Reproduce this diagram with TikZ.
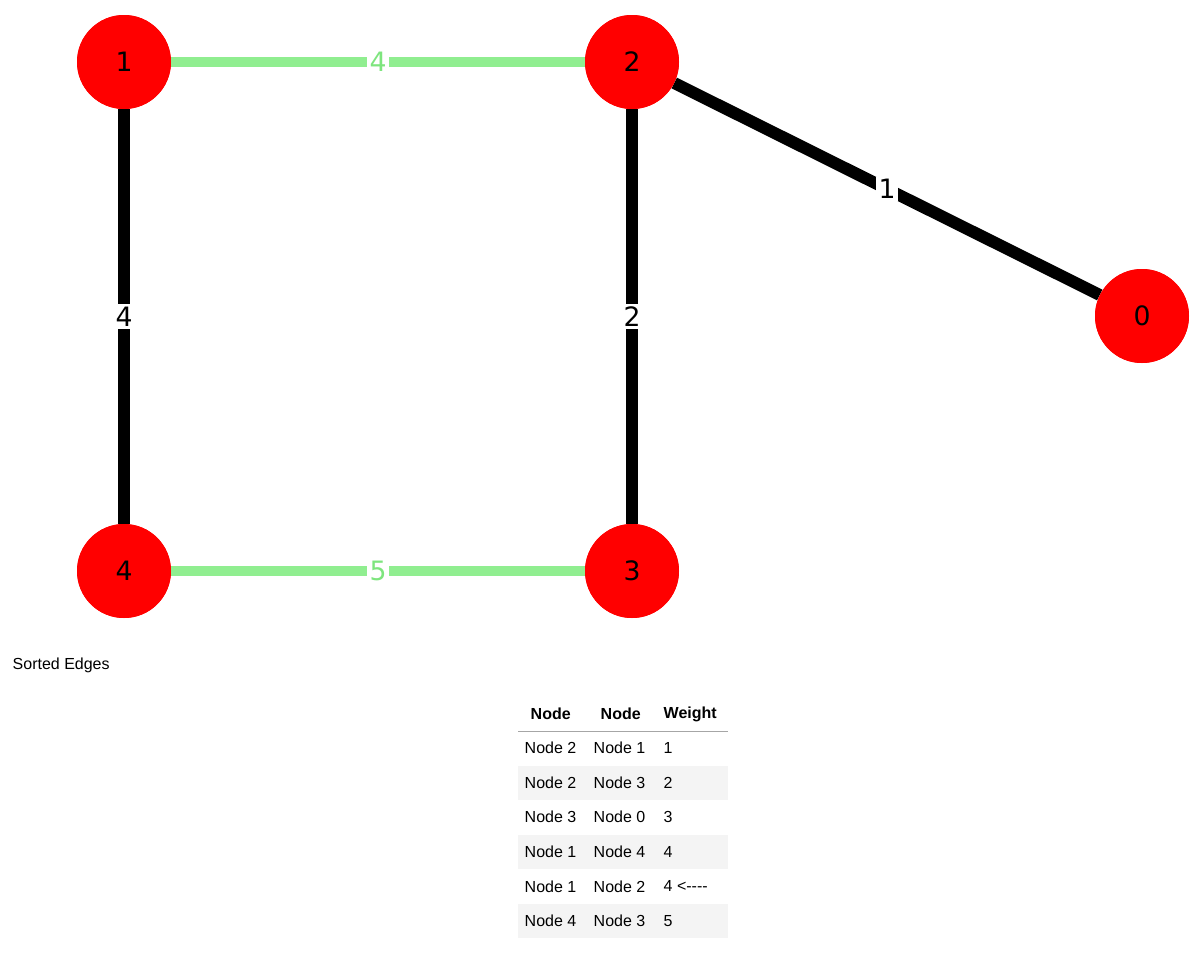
\documentclass[tikz,border=0pt]{standalone}
\usepackage{fontspec}
\setmainfont{DejaVu Sans}
\newfontfamily\tabfont{Liberation Sans}
\begin{document}
\begin{tikzpicture}[x=0.75pt,y=-0.75pt,
  vert/.style={circle,fill=red,minimum size=70.5pt,inner sep=0pt,font=\fontsize{20}{24}\selectfont},
  blk/.style={line width=9pt,black},
  grn/.style={line width=7.5pt,green!45!white!90!black,draw=lightgreen},
  lab/.style={fill=white,inner sep=2pt,font=\fontsize{20}{24}\selectfont},
  cell/.style={anchor=west,font=\tabfont\fontsize{12}{14}\selectfont},
  hcell/.style={anchor=west,font=\tabfont\bfseries\fontsize{12}{14}\selectfont}]
\definecolor{lightgreen}{HTML}{90EE90}
\definecolor{rowgray}{HTML}{F4F4F4}
\useasboundingbox (0,0) rectangle (1200,957);
\node[vert] (n1) at (124,62) {1};
\node[vert] (n2) at (632,62) {2};
\node[vert] (n0) at (1142,316) {0};
\node[vert] (n4) at (124,571) {4};
\node[vert] (n3) at (632,571) {3};
\begin{scope}[on background layer/.style={}]
\end{scope}
\draw[grn] (n1) -- node[lab]{4} (n2);
\draw[grn] (n4) -- node[lab]{5} (n3);
\draw[blk] (n1) -- node[lab]{4} (n4);
\draw[blk] (n2) -- node[lab]{2} (n3);
\draw[blk] (n2) -- node[lab]{1} (n0);
\node[vert] at (n1) {1};
\node[vert] at (n2) {2};
\node[vert] at (n0) {0};
\node[vert] at (n4) {4};
\node[vert] at (n3) {3};
\node[cell] (title) at (8,665) {Sorted Edges};
\foreach \y in {783,852,921} \fill[rowgray] (518,\y-17) rectangle (728,\y+17);
\draw[gray!70,line width=0.75pt] (518,731) -- (728,731);
\node[hcell] (h1) at (526,714) {Node};
\node[hcell] (h2) at (596,714) {Node};
\node[hcell] (h3) at (659,714) {Weight};
\foreach \a/\b/\w [count=\i] in {2/1/1,2/3/2,3/0/3,1/4/4,1/2/{4 <----},4/3/5}{
  \pgfmathsetmacro\yy{748+34.6*(\i-1)}
  \node[cell] at (520,\yy) {Node \a};
  \node[cell] at (589,\yy) {Node \b};
  \node[cell] at (659,\yy) {\w};
}
\end{tikzpicture}
\end{document}
